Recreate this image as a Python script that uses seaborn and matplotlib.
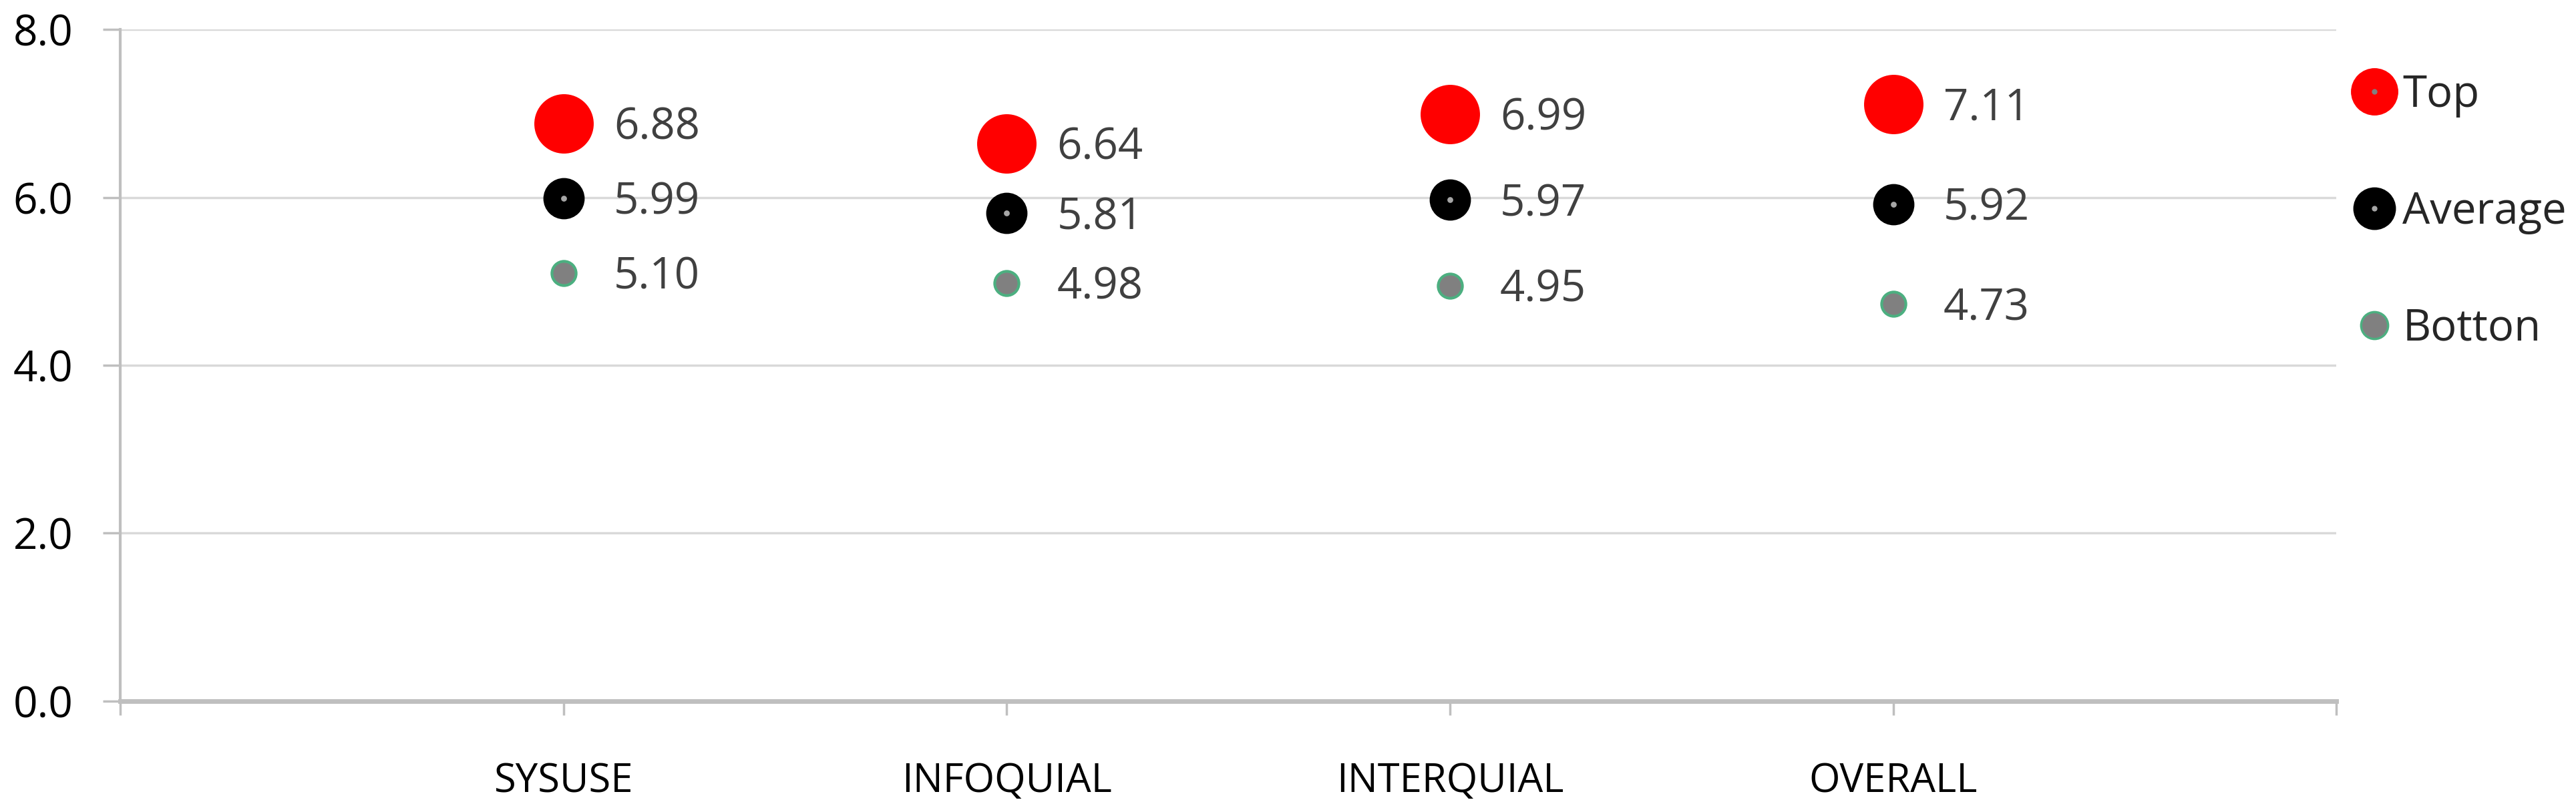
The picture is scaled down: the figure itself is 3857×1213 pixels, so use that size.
import pandas as pd
import seaborn as sns
import matplotlib.pyplot as plt
from matplotlib.lines import Line2D
from matplotlib.legend_handler import HandlerTuple

# Chart data
categories = ["SYSUSE", "INFOQUIAL", "INTERQUIAL", "OVERALL"]
top_values = [6.88, 6.64, 6.99, 7.11]
average_values = [5.99, 5.81, 5.97, 5.92]
bottom_values = [5.10, 4.98, 4.95, 4.73]
y_ticks = [0.0, 2.0, 4.0, 6.0, 8.0]
legend_labels = ["Top", "Average", "Botton"]

positions = list(range(1, len(categories) + 1))
df_top = pd.DataFrame({"pos": positions, "value": top_values})
df_avg = pd.DataFrame({"pos": positions, "value": average_values})
df_bot = pd.DataFrame({"pos": positions, "value": bottom_values})

sns.set_theme(style="white")
plt.rcParams["font.family"] = ["Open Sans", "DejaVu Sans"]

fig = plt.figure(figsize=(38.57, 12.13), dpi=100)
ax = fig.add_axes([0.0467, 0.1344, 0.8603, 0.8293])

grid_color = "#d9d9d9"
axis_color = "#bfbfbf"
label_color = "#404040"

# Markers
sns.scatterplot(data=df_top, x="pos", y="value", ax=ax, s=4100, color="#ff0000",
                edgecolor="#ff0000", linewidth=0, zorder=3)
sns.scatterplot(data=df_avg, x="pos", y="value", ax=ax, s=1980, color="#000000",
                edgecolor="#000000", linewidth=0, zorder=3)
sns.scatterplot(data=df_avg, x="pos", y="value", ax=ax, s=40, color="#a6a6a6",
                linewidth=0, zorder=4)
sns.scatterplot(data=df_bot, x="pos", y="value", ax=ax, s=680, color="#808080",
                edgecolor="#4caf80", linewidth=3, zorder=3)

# Data labels
for vals in (top_values, average_values, bottom_values):
    for p, v in zip(positions, vals):
        ax.annotate(f"{v:.2f}", (p, v), xytext=(54, -5), textcoords="offset points",
                    ha="left", va="center", fontsize=47, color=label_color)

# Axes
ax.set_xlim(0, len(categories) + 1)
ax.set_ylim(0, 8)
ax.set_yticks(y_ticks)
ax.set_yticklabels([f"{t:.1f}" for t in y_ticks])
ax.set_xticks(range(0, len(categories) + 2))
ax.set_xticklabels([""] + categories + [""])
ax.set_xlabel("")
ax.set_ylabel("")

ax.grid(False)
for t in y_ticks[1:]:
    ax.axhline(t, color=grid_color, linewidth=2.5, zorder=0)

for side in ["top", "right"]:
    ax.spines[side].set_visible(False)
ax.spines["left"].set_color(axis_color)
ax.spines["left"].set_linewidth(3)
ax.spines["bottom"].set_color(axis_color)
ax.spines["bottom"].set_linewidth(5)

ax.tick_params(axis="y", direction="out", length=19, width=2.5, color=axis_color,
               labelsize=46, labelcolor="#000000", pad=32, left=True)
ax.tick_params(axis="x", direction="out", length=15, width=2.5, color=axis_color,
               labelsize=43, labelcolor="#000000", pad=50, bottom=True)

# Legend
h_top = (Line2D([], [], marker="o", linestyle="none", markersize=50, color="#ff0000"),
         Line2D([], [], marker="o", linestyle="none", markersize=5, color="#808080"))
h_avg = (Line2D([], [], marker="o", linestyle="none", markersize=45, color="#000000"),
         Line2D([], [], marker="o", linestyle="none", markersize=5, color="#a6a6a6"))
h_bot = (Line2D([], [], marker="o", linestyle="none", markersize=29, color="#808080",
                markeredgecolor="#4caf80", markeredgewidth=2.5),)
fig.legend([h_top, h_avg, h_bot], legend_labels,
           handler_map={tuple: HandlerTuple(ndivide=1)},
           loc="upper left", bbox_to_anchor=(0.9064, 0.931), frameon=False,
           fontsize=47, labelspacing=1.67, handlelength=1.0, handletextpad=0.15,
           borderaxespad=0)

fig.savefig("out.png", dpi=100, facecolor="white")
